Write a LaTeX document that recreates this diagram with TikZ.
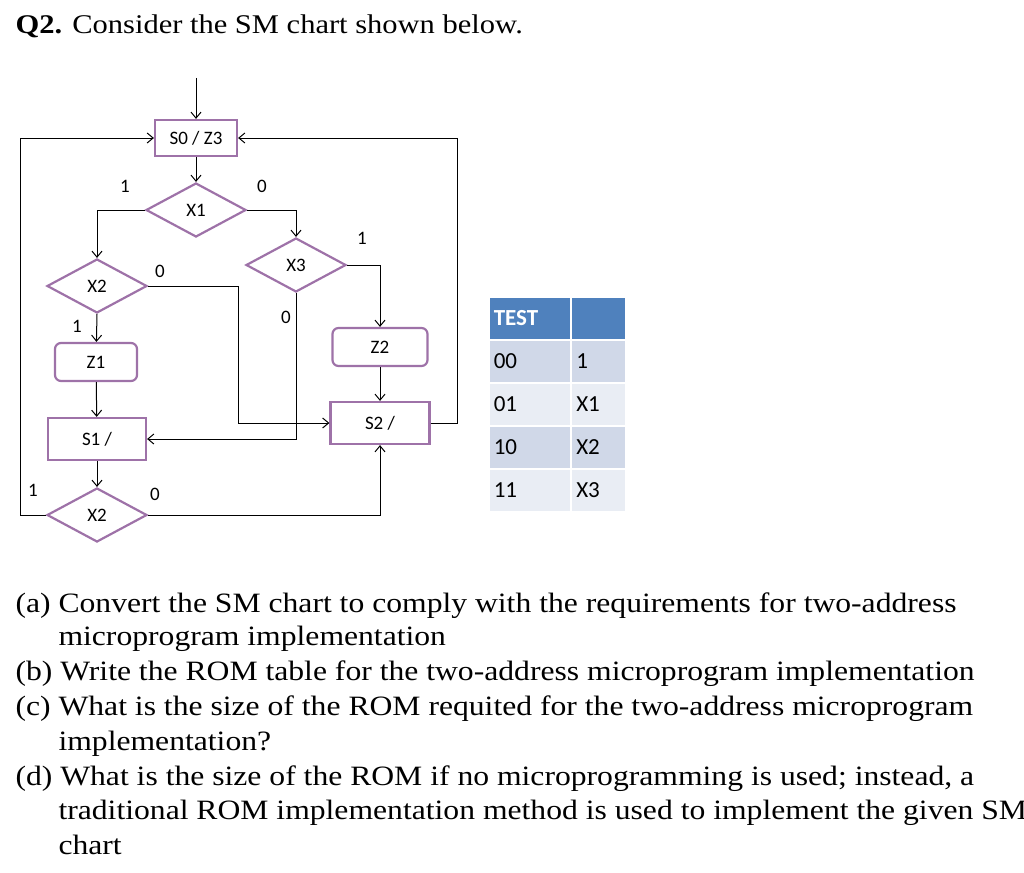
\documentclass[tikz,border=0pt]{standalone}
\usepackage{fontspec}
\setmainfont{Liberation Serif}[FakeStretch=1.13]
\newfontfamily\carl{Carlito}
\usetikzlibrary{shapes.geometric,arrows.meta}
\definecolor{pur}{HTML}{9E72A8}
\definecolor{hdr}{HTML}{4F81BD}
\definecolor{ra}{HTML}{D0D8E8}
\definecolor{rb}{HTML}{E9EDF4}
\begin{document}
\begin{tikzpicture}[x=1pt,y=-1pt,
 box/.style={draw=pur,line width=2.2pt,minimum width=#1,minimum height=38pt,font=\carl\fontsize{19}{19}\selectfont},
 rbox/.style={box=#1,rounded corners=6pt},
 dia/.style={draw=pur,line width=2.2pt,diamond,aspect=1.85,minimum width=100pt,minimum height=54pt,inner sep=0pt,font=\carl\fontsize{19}{19}\selectfont},
 ar/.style={-{Straight Barb[length=6pt,width=10pt]},line width=1pt},
 lb/.style={font=\carl\fontsize{19}{19}\selectfont},
 txt/.style={anchor=base west,font=\fontsize{28}{28}\selectfont},
 cell/.style={minimum width=#1,minimum height=43pt,inner sep=0pt,anchor=north west,text depth=0pt,font=\carl\fontsize{23}{23}\selectfont,draw=white,line width=1.5pt}]
\useasboundingbox (0,0) rectangle (1024,872);
\node[txt,font=\fontsize{27}{27}\selectfont] (t) at (12,34) {\textbf{Q2.} Consider the SM chart shown below.};
\node[box=82pt,minimum height=36pt] (s0) at (196,138) {S0 / Z3};
\node[dia] (x1) at (196,210) {X1};
\node[dia] (x3) at (296,265) {X3};
\node[dia] (x2a) at (97,286) {X2};
\node[rbox=82pt] (z1) at (96,362) {Z1};
\node[rbox=95pt] (z2) at (380,347) {Z2};
\node[box=98pt,minimum height=42pt] (s1) at (97,439) {S1 /};
\node[box=99pt,minimum height=42pt] (s2) at (380,423) {S2 /};
\node[dia] (x2b) at (97,515) {X2};
\coordinate (in) at (196,78);
\draw[ar] (in) -- (s0);
\draw[ar] (s0) -- (x1);
\draw[ar] (x1.west) -| (x2a.north);
\draw[ar] (x1.east) -| (x3.north);
\draw[ar] (x3.east) -| (z2.north);
\draw[ar] (x2a.south) -- (z1);
\draw[ar] (z1) -- (s1);
\draw[ar] (z2) -- (s2);
\draw[ar] (x2a.east) -- (238,286) |- (s2.west);
\draw[ar] (x3.south) |- (s1.east);
\draw[ar] (s1) -- (x2b);
\draw[ar] (x2b.east) -| (s2.south);
\draw[ar] (x2b.west) -- (20,515) |- (s0.west);
\draw[ar] (s2.east) -- (457,423) |- (s0.east);
\node[lb] (l1) at (125,186) {1};
\node[lb] (l2) at (262,186) {0};
\node[lb] (l3) at (362,238) {1};
\node[lb] (l4) at (160,271) {0};
\node[lb] (l5) at (77,326) {1};
\node[lb] (l6) at (286,317) {0};
\node[lb] (l7) at (33,490) {1};
\node[lb] (l8) at (155,494) {0};
% table
\node[cell=82pt,fill=hdr,text=white,font=\carl\bfseries\fontsize{23}{23}\selectfont,align=left,text width=72pt] (h1) at (488,296) {TEST};
\node[cell=55pt,fill=hdr] (h2) at (570,296) {};
\foreach \r/\a/\b/\c in {1/00/1/ra,2/01/X1/rb,3/10/X2/ra,4/11/X3/rb}{
 \node[cell=82pt,fill=\c,align=left,text width=72pt] (a\r) at (488,296+43*\r) {\a};
 \node[cell=55pt,fill=\c,align=left,text width=44pt] (b\r) at (570,296+43*\r) {\b};
}
\node[txt] (qa) at (12,612) {(a) Convert the SM chart to comply with the requirements for two-address};
\node[txt] (qa2) at (55,645) {microprogram implementation};
\node[txt] (qb) at (12,680) {(b) Write the ROM table for the two-address microprogram implementation};
\node[txt] (qc) at (12,715) {(c) What is the size of the ROM requited for the two-address microprogram};
\node[txt] (qc2) at (55,750) {implementation?};
\node[txt] (qd) at (12,785) {(d) What is the size of the ROM if no microprogramming is used; instead, a};
\node[txt] (qd2) at (55,819) {traditional ROM implementation method is used to implement the given SM};
\node[txt] (qd3) at (55,854) {chart};
\end{tikzpicture}
\end{document}
